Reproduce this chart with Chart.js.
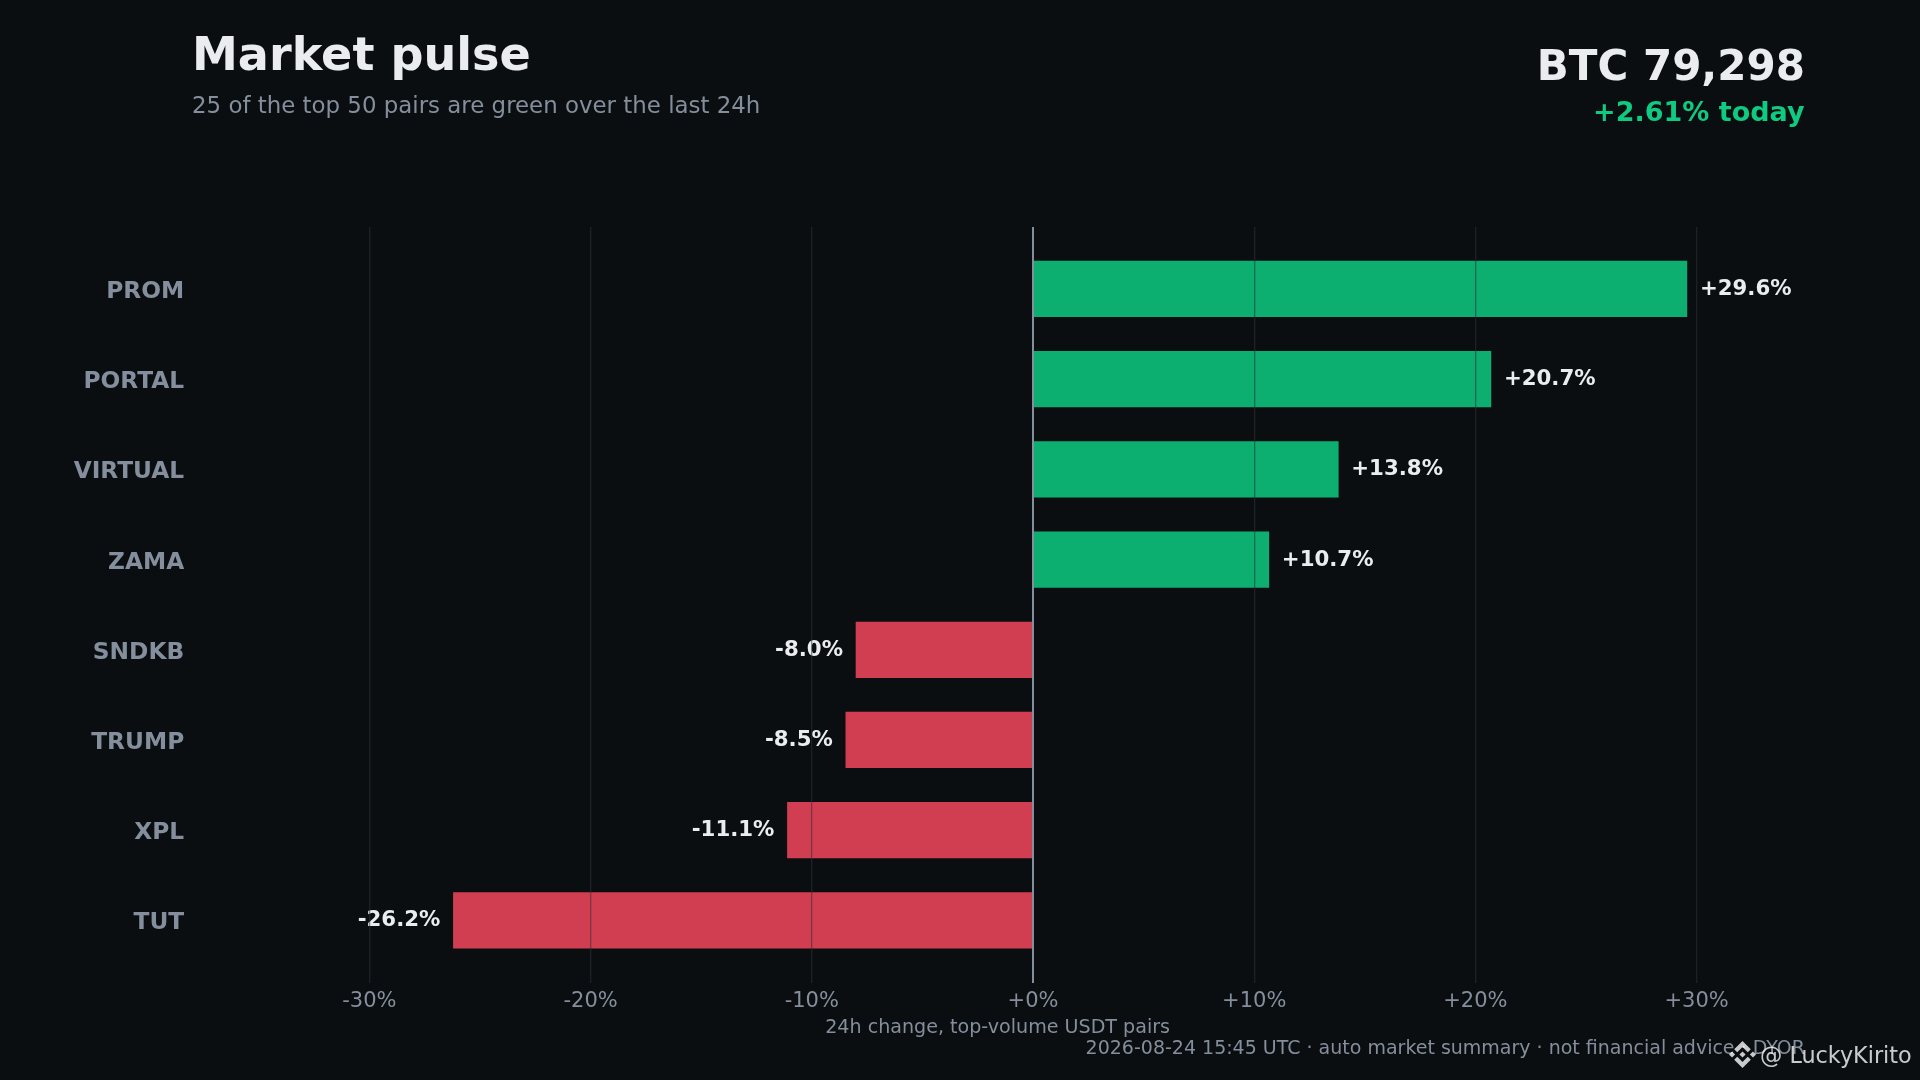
<!DOCTYPE html>
<html>
<head>
<meta charset="utf-8">
<title>Market pulse</title>
<script src="https://cdn.jsdelivr.net/npm/chart.js@4/dist/chart.umd.min.js"></script>
<style>
html,body{margin:0;padding:0;background:#0b0e11;width:1920px;height:1080px;overflow:hidden;font-family:"DejaVu Sans",sans-serif}
#wrap{position:relative;width:1920px;height:1080px}
canvas{position:absolute;left:0;top:0}
.t{position:absolute;line-height:0;white-space:nowrap}
</style>
</head>
<body>
<div id="wrap">
<canvas id="c" width="1920" height="1080"></canvas>
<div class="t" style="left:192px;top:54px;font-size:46.1px;font-weight:bold;color:#eaecef">Market pulse</div>
<div class="t" style="left:192px;top:105.3px;font-size:22.9px;color:#848e9c">25 of the top 50 pairs are green over the last 24h</div>
<div class="t" style="right:115px;top:66px;font-size:42px;font-weight:bold;color:#eaecef">BTC 79,298</div>
<div class="t" style="right:115.5px;top:112px;font-size:27px;font-weight:bold;color:#0ecb81">+2.61% today</div>
<div class="t" style="right:115px;top:1047px;font-size:19px;color:#848e9c">2026-08-24 15:45 UTC · auto market summary · not financial advice · DYOR</div>
<svg style="position:absolute;left:1728.5px;top:1040.5px" width="27" height="27" viewBox="0 0 126.61 126.61" fill="rgba(255,255,255,.78)">
<path d="M38.73 53.2 63.31 28.62 87.9 53.21 102.2 38.91 63.31 0 24.42 38.9z"/>
<path d="M0 63.31 14.3 49.01 28.6 63.31 14.3 77.61z"/>
<path d="M38.73 73.41 63.31 97.99 87.9 73.4 102.2 87.7 63.31 126.6 24.42 87.7z"/>
<path d="M98.01 63.31 112.31 49.01 126.61 63.31 112.31 77.61z"/>
<path d="M77.82 63.31 63.31 48.8 48.8 63.31 63.31 77.82z"/>
</svg>
<div class="t" style="left:1760px;top:1055px;font-size:22.3px;color:rgba(255,255,255,.78)">@ LuckyKirito</div>
</div>
<script>
const categories = ["PROM","PORTAL","VIRTUAL","ZAMA","SNDKB","TRUMP","XPL","TUT"];
const changes = [29.56,20.7,13.8,10.66,-8.0,-8.46,-11.1,-26.2];
const xTicks = [-30,-20,-10,0,10,20,30];

const pct = v => (v>=0?"+":"")+v+"%";
const pct1 = v => (v>=0?"+":"")+v.toFixed(1)+"%";

const valueLabels = {
  id:"valueLabels",
  afterDatasetsDraw(chart){
    const {ctx,scales:{x,y}} = chart;
    ctx.save();
    ctx.font = "bold 21.3px 'DejaVu Sans'";
    ctx.fillStyle = "#eaecef";
    ctx.textBaseline = "middle";
    changes.forEach((v,i)=>{
      ctx.textAlign = v>=0?"left":"right";
      ctx.fillText(pct1(v), x.getPixelForValue(v)+(v>=0?13:-13), y.getPixelForValue(i)+0.5);
    });
    ctx.restore();
  }
};

new Chart(document.getElementById("c"),{
  type:"bar",
  data:{datasets:[{
    data:changes.map((v,i)=>({x:v,y:i})),
    backgroundColor:c=>c.raw.x>=0?"rgba(14,203,129,.85)":"rgba(246,70,93,.85)",
    borderWidth:0,
    barThickness:55.6
  }]},
  plugins:[valueLabels],
  options:{
    indexAxis:"y",
    responsive:false,
    animation:false,
    devicePixelRatio:1,
    layout:{padding:{left:0,top:227,right:115,bottom:0}},
    plugins:{legend:{display:false},tooltip:{enabled:false},title:{display:false}},
    scales:{
      x:{
        type:"linear",min:-38.1,max:34.9,
        afterBuildTicks:s=>{s.ticks=xTicks.map(value=>({value}));},
        afterFit:s=>{s.height=97;},
        border:{display:false},
        grid:{
          z:1,drawTicks:false,
          color:c=>c.tick&&c.tick.value===0?"#848e9c":"rgba(43,49,57,.55)",
          lineWidth:c=>c.tick&&c.tick.value===0?2:1.3
        },
        ticks:{color:"#848e9c",font:{family:"DejaVu Sans",size:21},padding:6,maxRotation:0,autoSkip:false,callback:v=>pct(v)},
        title:{display:true,text:"24h change, top-volume USDT pairs",color:"#848e9c",font:{family:"DejaVu Sans",size:19.1},padding:{top:0,bottom:41}}
      },
      y:{
        type:"linear",reverse:true,min:-0.687,max:7.694,offset:false,
        afterBuildTicks:s=>{s.ticks=categories.map((_,value)=>({value}));},
        afterFit:s=>{s.width=190.2;},
        border:{display:false},
        grid:{display:false,drawTicks:false,offset:false},
        ticks:{color:"#848e9c",font:{family:"DejaVu Sans",size:23.3,weight:"bold"},padding:6,labelOffset:3,autoSkip:false,callback:v=>categories[v]}
      }
    }
  }
});
</script>
</body>
</html>
